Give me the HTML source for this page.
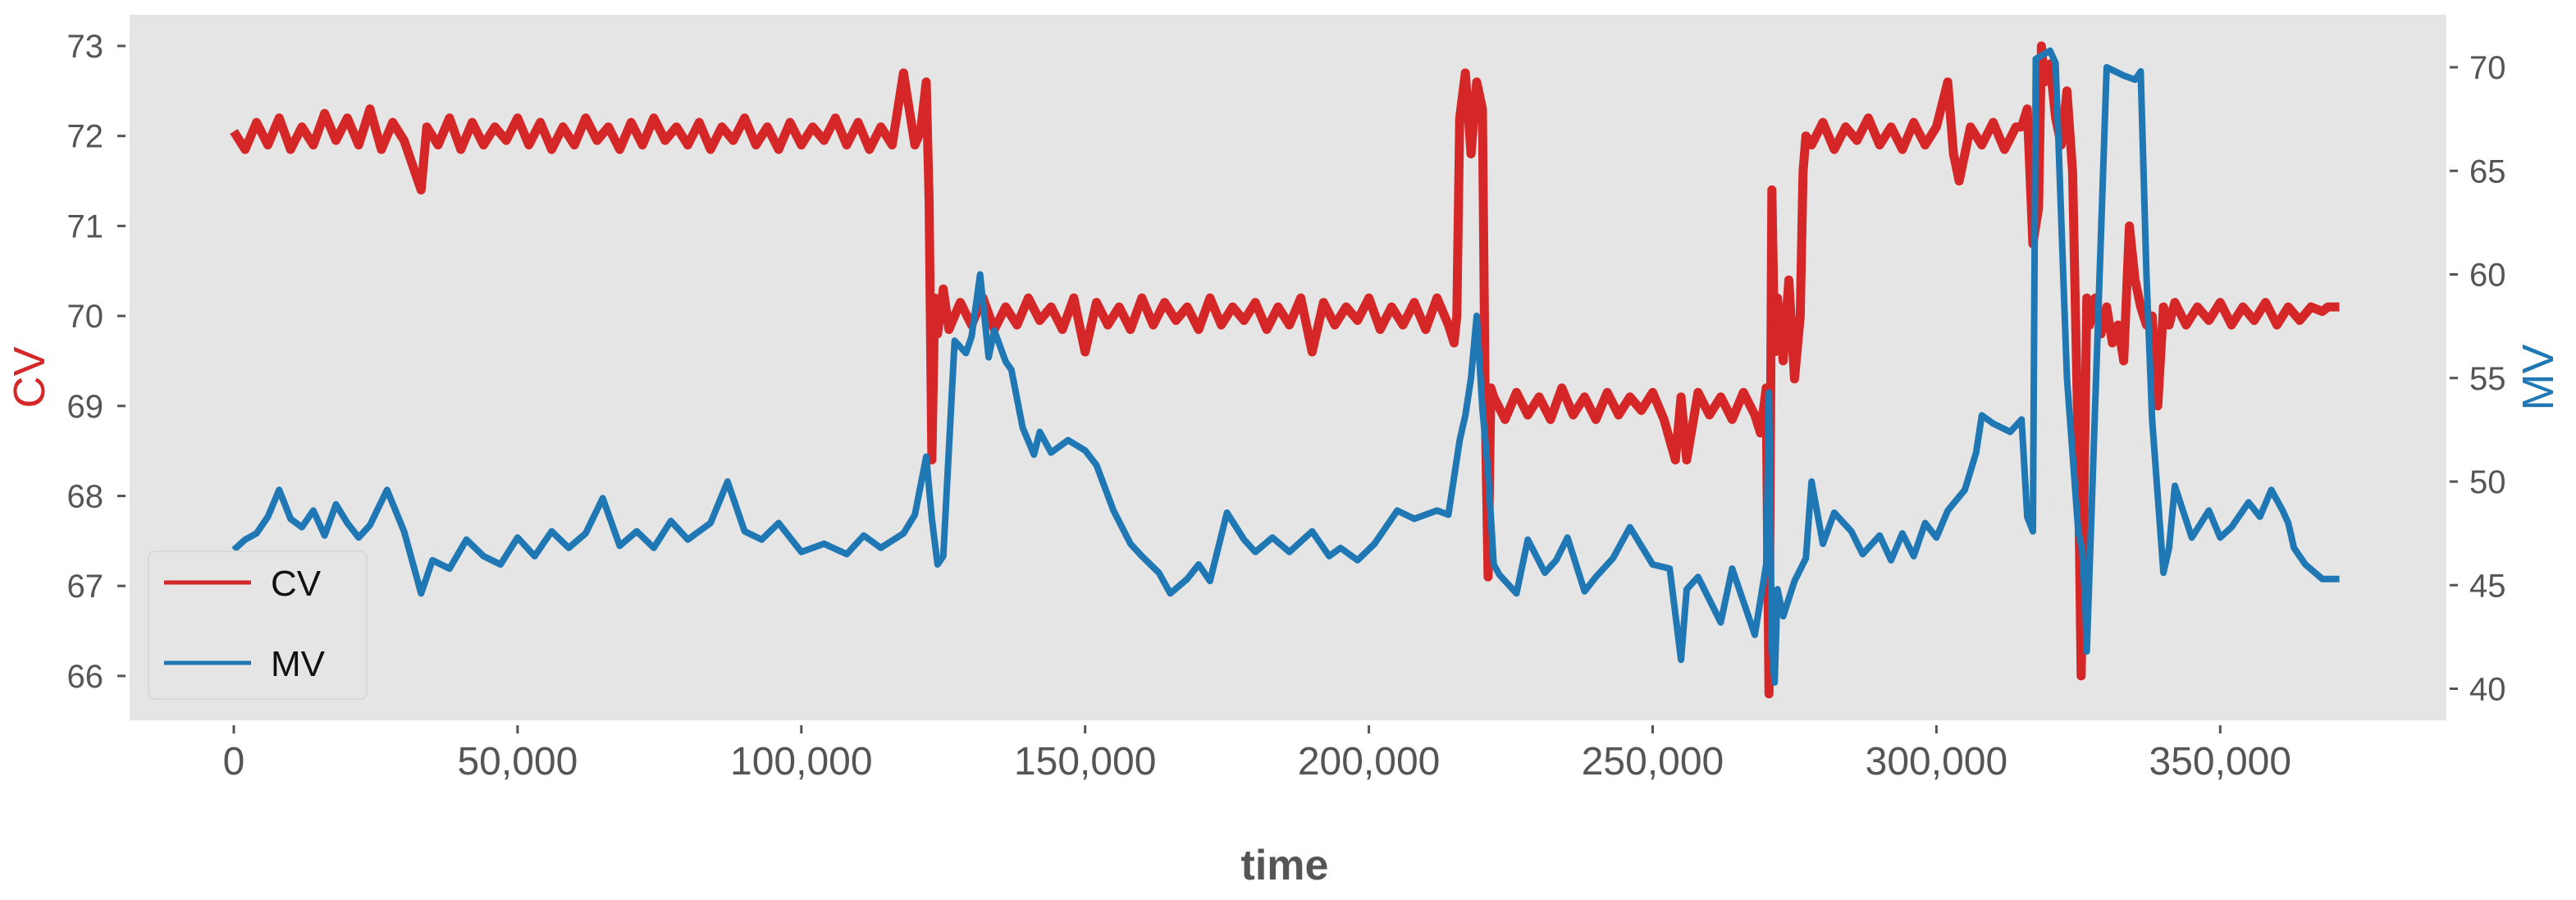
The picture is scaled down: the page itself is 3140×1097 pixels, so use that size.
<!DOCTYPE html>
<html><head><meta charset="utf-8"><style>
html,body{margin:0;padding:0;background:#fff;}
svg{display:block;font-family:"Liberation Sans",sans-serif;}
</style></head><body>
<svg id="chart" width="3140" height="1097" viewBox="0 0 3140 1097" xmlns="http://www.w3.org/2000/svg">
<rect x="158" y="18" width="2824" height="860" fill="#e5e5e5"/>
<g id="series"></g>
<g id="axes"></g>
<g>
<rect x="181" y="672" width="266" height="180" rx="8" fill="#e5e5e5" fill-opacity="0.85" stroke="#d8d8d8" stroke-width="2"/>
<line x1="200" y1="710" x2="306" y2="710" stroke="#d62728" stroke-width="5"/>
<text x="330" y="726" font-size="44" fill="#111">CV</text>
<line x1="200" y1="808" x2="306" y2="808" stroke="#1f77b4" stroke-width="5"/>
<text x="330" y="824" font-size="44" fill="#111">MV</text>
</g>
<text x="1566" y="1072" font-size="52" font-weight="bold" fill="#555" text-anchor="middle">time</text>
<text transform="translate(54,460) rotate(-90)" font-size="54" fill="#d62728" text-anchor="middle">CV</text>
<text transform="translate(3112,460) rotate(-90)" font-size="54" fill="#1f77b4" text-anchor="middle">MV</text>
</svg>
<script>
const xTicks = [0,50000,100000,150000,200000,250000,300000,350000];
const xTickLabels = ["0","50,000","100,000","150,000","200,000","250,000","300,000","350,000"];
const leftTicks = [66,67,68,69,70,71,72,73];
const rightTicks = [40,45,50,55,60,65,70];
const cvTime = [0,2,4,6,8,10,12,14,16,18,20,22,24,26,28,30,33,34,36,38,40,42,44,46,48,50,52,54,56,58,60,62,64,66,68,70,72,74,76,78,80,82,84,86,88,90,92,94,96,98,100,102,104,106,108,110,112,114,116,118,120,121,122,122.5,123,123.5,124,125,126,128,130,132,134,136,138,140,142,144,146,148,150,152,154,156,158,160,162,164,166,168,170,172,174,176,178,180,182,184,186,188,190,192,194,196,198,200,202,204,206,208,210,212,214,215,215.5,216,217,218,219,220,220.5,221,221.5,222,224,226,228,230,232,234,236,238,240,242,244,246,248,250,252,254,255,256,258,260,262,264,266,268,269,270,270.5,271,271.5,272,273,274,275,276,276.5,277,278,280,282,284,286,288,290,292,294,296,298,300,302,303,304,306,308,310,312,314,315,316,317,318,318.5,319,320,321,322,323,324,325,325.5,326,326.5,327,328,329,330,331,332,333,334,335,336,337,338,339,340,341,342,344,346,348,350,352,354,356,358,360,362,364,366,368,369,371];
const cvValue = [72.05,71.85,72.15,71.9,72.2,71.85,72.1,71.9,72.25,71.95,72.2,71.9,72.3,71.85,72.15,71.95,71.4,72.1,71.9,72.2,71.85,72.15,71.9,72.1,71.95,72.2,71.9,72.15,71.85,72.1,71.9,72.2,71.95,72.1,71.85,72.15,71.9,72.2,71.95,72.1,71.9,72.15,71.85,72.1,71.95,72.2,71.9,72.1,71.85,72.15,71.9,72.1,71.95,72.2,71.9,72.15,71.85,72.1,71.9,72.7,71.9,72.05,72.6,71.3,68.4,70.2,69.8,70.3,69.85,70.15,69.9,70.2,69.85,70.1,69.9,70.2,69.95,70.1,69.85,70.2,69.6,70.15,69.9,70.1,69.85,70.2,69.9,70.15,69.95,70.1,69.85,70.2,69.9,70.1,69.95,70.15,69.85,70.1,69.9,70.2,69.6,70.15,69.9,70.1,69.95,70.2,69.85,70.1,69.9,70.15,69.85,70.2,69.9,69.7,70.0,72.2,72.7,71.8,72.6,72.3,69.0,67.1,69.2,69.1,68.85,69.15,68.9,69.1,68.85,69.2,68.9,69.1,68.85,69.15,68.9,69.1,68.95,69.15,68.85,68.4,69.1,68.4,69.15,68.9,69.1,68.85,69.15,68.9,68.7,69.2,65.8,71.4,69.6,70.2,69.5,70.4,69.3,70.0,71.6,72.0,71.9,72.15,71.85,72.1,71.95,72.2,71.9,72.1,71.85,72.15,71.9,72.1,72.6,71.8,71.5,72.1,71.9,72.15,71.85,72.1,72.1,72.3,70.8,71.2,73.0,72.6,72.8,72.2,71.9,72.5,71.6,68.5,66.0,68.0,70.2,69.9,70.2,69.8,70.1,69.7,69.9,69.5,71.0,70.4,70.1,69.9,70.0,69.0,70.1,69.9,70.15,69.9,70.1,69.95,70.15,69.9,70.1,69.95,70.15,69.9,70.1,69.95,70.1,70.05,70.1,70.1];
const mvTime = [0,2,4,6,8,10,12,14,16,18,20,22,24,27,30,33,35,38,41,44,47,50,53,56,59,62,65,68,71,74,77,80,84,87,90,93,96,100,104,108,111,114,118,120,122,123,124,125,127,129,130,131.5,133,134,136,137,139,141,142,144,147,150,152,155,158,160,163,165,168,170,172,175,178,180,183,186,190,193,195,198,201,205,208,212,214,216,217,218,219,220,221,222,223,226,228,231,233,235,238,240,243,246,250,253,255,256,258,262,264,266,268,270,270.5,271,271.5,272,273,275,277,278,280,282,285,287,290,292,294,296,298,300,302,305,307,308,310,313,315,316,317,317.5,320,321,323,325,325.7,326.2,326.5,330,333,335,336,337,338,340,341,342,345,348,350,352,355,357,359,361,362,363,365,368,371];
const mvValue = [46.7,47.2,47.5,48.3,49.6,48.2,47.8,48.6,47.4,48.9,48.0,47.3,47.9,49.6,47.6,44.6,46.2,45.8,47.2,46.4,46.0,47.3,46.4,47.6,46.8,47.5,49.2,46.9,47.6,46.8,48.1,47.2,48.0,50.0,47.6,47.2,48.0,46.6,47.0,46.5,47.4,46.8,47.5,48.4,51.2,48.2,46.0,46.4,56.8,56.2,57.0,60.0,56.0,57.3,55.8,55.4,52.6,51.3,52.4,51.4,52.0,51.5,50.8,48.6,47.0,46.4,45.6,44.6,45.3,46.0,45.2,48.5,47.2,46.6,47.3,46.6,47.6,46.4,46.8,46.2,47.0,48.6,48.2,48.6,48.4,52.0,53.2,55.0,58.0,53.5,50.5,46.0,45.5,44.6,47.2,45.6,46.2,47.3,44.7,45.4,46.3,47.8,46.0,45.8,41.4,44.8,45.4,43.2,45.8,44.2,42.6,46.0,54.3,42.0,40.3,44.8,43.5,45.2,46.3,50.0,47.0,48.5,47.6,46.5,47.4,46.2,47.5,46.4,48.0,47.3,48.6,49.6,51.4,53.2,52.8,52.4,53.0,48.3,47.6,70.4,70.8,70.2,55.0,47.6,46.7,44.3,41.8,70.0,69.6,69.4,69.8,60.0,53.0,45.6,46.8,49.8,47.3,48.6,47.3,47.8,49.0,48.3,49.6,48.6,48.0,46.8,46.0,45.3,45.3,45.3];
const svgNS = "http://www.w3.org/2000/svg";
const PL = 158, PR = 2982, PT = 18, PB = 878;
function xScale(t){ return 285 + t * 0.006918; }
function yLeft(v){ return 56 + (73 - v) * 109.7; }
function yRight(v){ return 82 + (70 - v) * 25.25; }
const series = document.getElementById('series');
const axes = document.getElementById('axes');
function mk(tag, attrs){ const e = document.createElementNS(svgNS, tag); for (const k in attrs) e.setAttribute(k, attrs[k]); return e; }
let d = cvTime.map((t,i)=>(i?'L':'M')+xScale(t*1000).toFixed(1)+','+yLeft(cvValue[i]).toFixed(1)).join('');
const cv = mk('path', {d:d, fill:'none', stroke:'#d62728', 'stroke-width':11, 'stroke-linejoin':'round'});


series.appendChild(cv);
d = mvTime.map((t,i)=>(i?'L':'M')+xScale(t*1000).toFixed(1)+','+yRight(mvValue[i]).toFixed(1)).join('');
const mv = mk('path', {d:d, fill:'none', stroke:'#1f77b4', 'stroke-width':8, 'stroke-linejoin':'round'});


series.appendChild(mv);
xTicks.forEach((t,i)=>{
  const x = xScale(t);
  const tk = mk('line', {x1:x, y1:PB+6, x2:x, y2:PB+16, stroke:'#555', 'stroke-width':3});
  
  
  axes.appendChild(tk);
  const tx = mk('text', {x:x, y:PB+66, 'font-size':48, fill:'#555', 'text-anchor':'middle'});
  tx.textContent = xTickLabels[i];
  
  
  axes.appendChild(tx);
});
leftTicks.forEach(v=>{
  const y = yLeft(v);
  const tk = mk('line', {x1:143, y1:y, x2:153, y2:y, stroke:'#555', 'stroke-width':3});
  
  
  axes.appendChild(tk);
  const tx = mk('text', {x:126, y:y+14, 'font-size':40, fill:'#555', 'text-anchor':'end'});
  tx.textContent = String(v);
  
  
  axes.appendChild(tx);
});
rightTicks.forEach(v=>{
  const y = yRight(v);
  const tk = mk('line', {x1:2986, y1:y, x2:2996, y2:y, stroke:'#555', 'stroke-width':3});
  
  
  axes.appendChild(tk);
  const tx = mk('text', {x:3010, y:y+14, 'font-size':40, fill:'#555', 'text-anchor':'start'});
  tx.textContent = String(v);
  
  
  axes.appendChild(tx);
});
</script>
</body></html>
